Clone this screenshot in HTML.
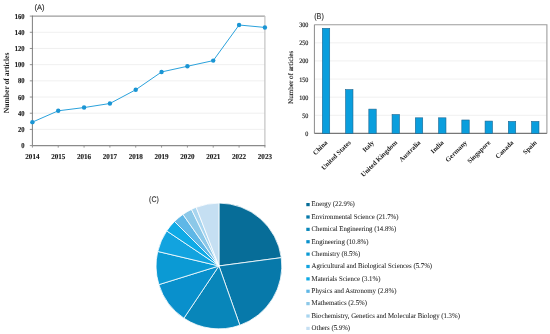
<!DOCTYPE html>
<html><head><meta charset="utf-8"><style>html,body{margin:0;padding:0;background:#fff;width:550px;height:334px;overflow:hidden}svg{display:block}</style></head>
<body><svg width="550" height="334" viewBox="0 0 550 334" text-rendering="geometricPrecision"><text x="34.4" y="10.0" font-family='"Liberation Sans", sans-serif' font-size="7.8" fill="#2a2a2a" stroke="#2a2a2a" stroke-width="0.12" textLength="10.1" lengthAdjust="spacingAndGlyphs">(A)</text>
<line x1="32.4" y1="129.41" x2="264.9" y2="129.41" stroke="#ececec" stroke-width="0.8"/>
<line x1="32.4" y1="113.22" x2="264.9" y2="113.22" stroke="#ececec" stroke-width="0.8"/>
<line x1="32.4" y1="97.04" x2="264.9" y2="97.04" stroke="#ececec" stroke-width="0.8"/>
<line x1="32.4" y1="80.85" x2="264.9" y2="80.85" stroke="#ececec" stroke-width="0.8"/>
<line x1="32.4" y1="64.66" x2="264.9" y2="64.66" stroke="#ececec" stroke-width="0.8"/>
<line x1="32.4" y1="48.47" x2="264.9" y2="48.47" stroke="#ececec" stroke-width="0.8"/>
<line x1="32.4" y1="32.29" x2="264.9" y2="32.29" stroke="#ececec" stroke-width="0.8"/>
<line x1="32.4" y1="16.1" x2="264.9" y2="16.1" stroke="#9d9d9d" stroke-width="1.1"/>
<line x1="264.9" y1="16.1" x2="264.9" y2="145.6" stroke="#bdbdbd" stroke-width="1.1"/>
<line x1="29.799999999999997" y1="145.60" x2="32.4" y2="145.60" stroke="#777" stroke-width="0.8"/>
<text transform="translate(24.6,148.20) scale(0.86,1)" text-anchor="end" font-family='"Liberation Serif", serif' font-weight="bold" font-size="7.6" fill="#1a1a1a" stroke="#1a1a1a" stroke-width="0.15">0</text>
<line x1="29.799999999999997" y1="129.41" x2="32.4" y2="129.41" stroke="#777" stroke-width="0.8"/>
<text transform="translate(24.6,132.01) scale(0.86,1)" text-anchor="end" font-family='"Liberation Serif", serif' font-weight="bold" font-size="7.6" fill="#1a1a1a" stroke="#1a1a1a" stroke-width="0.15">20</text>
<line x1="29.799999999999997" y1="113.22" x2="32.4" y2="113.22" stroke="#777" stroke-width="0.8"/>
<text transform="translate(24.6,115.82) scale(0.86,1)" text-anchor="end" font-family='"Liberation Serif", serif' font-weight="bold" font-size="7.6" fill="#1a1a1a" stroke="#1a1a1a" stroke-width="0.15">40</text>
<line x1="29.799999999999997" y1="97.04" x2="32.4" y2="97.04" stroke="#777" stroke-width="0.8"/>
<text transform="translate(24.6,99.64) scale(0.86,1)" text-anchor="end" font-family='"Liberation Serif", serif' font-weight="bold" font-size="7.6" fill="#1a1a1a" stroke="#1a1a1a" stroke-width="0.15">60</text>
<line x1="29.799999999999997" y1="80.85" x2="32.4" y2="80.85" stroke="#777" stroke-width="0.8"/>
<text transform="translate(24.6,83.45) scale(0.86,1)" text-anchor="end" font-family='"Liberation Serif", serif' font-weight="bold" font-size="7.6" fill="#1a1a1a" stroke="#1a1a1a" stroke-width="0.15">80</text>
<line x1="29.799999999999997" y1="64.66" x2="32.4" y2="64.66" stroke="#777" stroke-width="0.8"/>
<text transform="translate(24.6,67.26) scale(0.86,1)" text-anchor="end" font-family='"Liberation Serif", serif' font-weight="bold" font-size="7.6" fill="#1a1a1a" stroke="#1a1a1a" stroke-width="0.15">100</text>
<line x1="29.799999999999997" y1="48.47" x2="32.4" y2="48.47" stroke="#777" stroke-width="0.8"/>
<text transform="translate(24.6,51.07) scale(0.86,1)" text-anchor="end" font-family='"Liberation Serif", serif' font-weight="bold" font-size="7.6" fill="#1a1a1a" stroke="#1a1a1a" stroke-width="0.15">120</text>
<line x1="29.799999999999997" y1="32.29" x2="32.4" y2="32.29" stroke="#777" stroke-width="0.8"/>
<text transform="translate(24.6,34.89) scale(0.86,1)" text-anchor="end" font-family='"Liberation Serif", serif' font-weight="bold" font-size="7.6" fill="#1a1a1a" stroke="#1a1a1a" stroke-width="0.15">140</text>
<line x1="29.799999999999997" y1="16.10" x2="32.4" y2="16.10" stroke="#777" stroke-width="0.8"/>
<text transform="translate(24.6,18.70) scale(0.86,1)" text-anchor="end" font-family='"Liberation Serif", serif' font-weight="bold" font-size="7.6" fill="#1a1a1a" stroke="#1a1a1a" stroke-width="0.15">160</text>
<line x1="32.40" y1="145.6" x2="32.40" y2="147.6" stroke="#777" stroke-width="0.8"/>
<text x="32.40" y="158.6" text-anchor="middle" font-family='"Liberation Serif", serif' font-weight="bold" font-size="7.6" fill="#1a1a1a" stroke="#1a1a1a" stroke-width="0.12" textLength="14.2" lengthAdjust="spacingAndGlyphs">2014</text>
<line x1="58.23" y1="145.6" x2="58.23" y2="147.6" stroke="#777" stroke-width="0.8"/>
<text x="58.23" y="158.6" text-anchor="middle" font-family='"Liberation Serif", serif' font-weight="bold" font-size="7.6" fill="#1a1a1a" stroke="#1a1a1a" stroke-width="0.12" textLength="14.2" lengthAdjust="spacingAndGlyphs">2015</text>
<line x1="84.07" y1="145.6" x2="84.07" y2="147.6" stroke="#777" stroke-width="0.8"/>
<text x="84.07" y="158.6" text-anchor="middle" font-family='"Liberation Serif", serif' font-weight="bold" font-size="7.6" fill="#1a1a1a" stroke="#1a1a1a" stroke-width="0.12" textLength="14.2" lengthAdjust="spacingAndGlyphs">2016</text>
<line x1="109.90" y1="145.6" x2="109.90" y2="147.6" stroke="#777" stroke-width="0.8"/>
<text x="109.90" y="158.6" text-anchor="middle" font-family='"Liberation Serif", serif' font-weight="bold" font-size="7.6" fill="#1a1a1a" stroke="#1a1a1a" stroke-width="0.12" textLength="14.2" lengthAdjust="spacingAndGlyphs">2017</text>
<line x1="135.73" y1="145.6" x2="135.73" y2="147.6" stroke="#777" stroke-width="0.8"/>
<text x="135.73" y="158.6" text-anchor="middle" font-family='"Liberation Serif", serif' font-weight="bold" font-size="7.6" fill="#1a1a1a" stroke="#1a1a1a" stroke-width="0.12" textLength="14.2" lengthAdjust="spacingAndGlyphs">2018</text>
<line x1="161.57" y1="145.6" x2="161.57" y2="147.6" stroke="#777" stroke-width="0.8"/>
<text x="161.57" y="158.6" text-anchor="middle" font-family='"Liberation Serif", serif' font-weight="bold" font-size="7.6" fill="#1a1a1a" stroke="#1a1a1a" stroke-width="0.12" textLength="14.2" lengthAdjust="spacingAndGlyphs">2019</text>
<line x1="187.40" y1="145.6" x2="187.40" y2="147.6" stroke="#777" stroke-width="0.8"/>
<text x="187.40" y="158.6" text-anchor="middle" font-family='"Liberation Serif", serif' font-weight="bold" font-size="7.6" fill="#1a1a1a" stroke="#1a1a1a" stroke-width="0.12" textLength="14.2" lengthAdjust="spacingAndGlyphs">2020</text>
<line x1="213.23" y1="145.6" x2="213.23" y2="147.6" stroke="#777" stroke-width="0.8"/>
<text x="213.23" y="158.6" text-anchor="middle" font-family='"Liberation Serif", serif' font-weight="bold" font-size="7.6" fill="#1a1a1a" stroke="#1a1a1a" stroke-width="0.12" textLength="14.2" lengthAdjust="spacingAndGlyphs">2021</text>
<line x1="239.07" y1="145.6" x2="239.07" y2="147.6" stroke="#777" stroke-width="0.8"/>
<text x="239.07" y="158.6" text-anchor="middle" font-family='"Liberation Serif", serif' font-weight="bold" font-size="7.6" fill="#1a1a1a" stroke="#1a1a1a" stroke-width="0.12" textLength="14.2" lengthAdjust="spacingAndGlyphs">2022</text>
<line x1="264.90" y1="145.6" x2="264.90" y2="147.6" stroke="#777" stroke-width="0.8"/>
<text x="264.90" y="158.6" text-anchor="middle" font-family='"Liberation Serif", serif' font-weight="bold" font-size="7.6" fill="#1a1a1a" stroke="#1a1a1a" stroke-width="0.12" textLength="14.2" lengthAdjust="spacingAndGlyphs">2023</text>
<line x1="32.4" y1="15.600000000000001" x2="32.4" y2="145.6" stroke="#6e6e6e" stroke-width="0.9"/>
<line x1="32.4" y1="145.6" x2="265.4" y2="145.6" stroke="#8a8a8a" stroke-width="1.2"/>
<polyline points="32.40,122.13 58.23,110.80 84.07,107.56 109.90,103.51 135.73,89.75 161.57,71.95 187.40,66.28 213.23,60.62 239.07,25.00 264.90,27.43" fill="none" stroke="#2ba2dc" stroke-width="1.0"/>
<circle cx="32.40" cy="122.13" r="2.2" fill="#1a95d4"/>
<circle cx="58.23" cy="110.80" r="2.2" fill="#1a95d4"/>
<circle cx="84.07" cy="107.56" r="2.2" fill="#1a95d4"/>
<circle cx="109.90" cy="103.51" r="2.2" fill="#1a95d4"/>
<circle cx="135.73" cy="89.75" r="2.2" fill="#1a95d4"/>
<circle cx="161.57" cy="71.95" r="2.2" fill="#1a95d4"/>
<circle cx="187.40" cy="66.28" r="2.2" fill="#1a95d4"/>
<circle cx="213.23" cy="60.62" r="2.2" fill="#1a95d4"/>
<circle cx="239.07" cy="25.00" r="2.2" fill="#1a95d4"/>
<circle cx="264.90" cy="27.43" r="2.2" fill="#1a95d4"/>
<text transform="translate(8.5,82.9) rotate(-90)" text-anchor="middle" font-family='"Liberation Serif", serif' font-weight="bold" font-size="7.8" fill="#1a1a1a" textLength="60.6" lengthAdjust="spacingAndGlyphs">Number of articles</text>
<text x="314.2" y="18.6" font-family='"Liberation Sans", sans-serif' font-size="8.2" fill="#2a2a2a" stroke="#2a2a2a" stroke-width="0.12" textLength="9.7" lengthAdjust="spacingAndGlyphs">(B)</text>
<line x1="314.4" y1="115.28" x2="546.9" y2="115.28" stroke="#ececec" stroke-width="0.8"/>
<line x1="314.4" y1="97.17" x2="546.9" y2="97.17" stroke="#ececec" stroke-width="0.8"/>
<line x1="314.4" y1="79.05" x2="546.9" y2="79.05" stroke="#ececec" stroke-width="0.8"/>
<line x1="314.4" y1="60.93" x2="546.9" y2="60.93" stroke="#ececec" stroke-width="0.8"/>
<line x1="314.4" y1="42.82" x2="546.9" y2="42.82" stroke="#ececec" stroke-width="0.8"/>
<polyline points="314.4,24.7 546.9,24.7 546.9,133.4" fill="none" stroke="#9d9d9d" stroke-width="1.1"/>
<text transform="translate(308.4,135.90) scale(0.9,1)" text-anchor="end" font-family='"Liberation Serif", serif' font-size="6.8" fill="#111" stroke="#111" stroke-width="0.15">0</text>
<text transform="translate(308.4,117.78) scale(0.9,1)" text-anchor="end" font-family='"Liberation Serif", serif' font-size="6.8" fill="#111" stroke="#111" stroke-width="0.15">50</text>
<text transform="translate(308.4,99.67) scale(0.9,1)" text-anchor="end" font-family='"Liberation Serif", serif' font-size="6.8" fill="#111" stroke="#111" stroke-width="0.15">100</text>
<text transform="translate(308.4,81.55) scale(0.9,1)" text-anchor="end" font-family='"Liberation Serif", serif' font-size="6.8" fill="#111" stroke="#111" stroke-width="0.15">150</text>
<text transform="translate(308.4,63.43) scale(0.9,1)" text-anchor="end" font-family='"Liberation Serif", serif' font-size="6.8" fill="#111" stroke="#111" stroke-width="0.15">200</text>
<text transform="translate(308.4,45.32) scale(0.9,1)" text-anchor="end" font-family='"Liberation Serif", serif' font-size="6.8" fill="#111" stroke="#111" stroke-width="0.15">250</text>
<text transform="translate(308.4,27.20) scale(0.9,1)" text-anchor="end" font-family='"Liberation Serif", serif' font-size="6.8" fill="#111" stroke="#111" stroke-width="0.15">300</text>
<line x1="314.4" y1="24.7" x2="314.4" y2="133.4" stroke="#8a8a8a" stroke-width="1"/>
<line x1="314.4" y1="133.4" x2="546.9" y2="133.4" stroke="#777" stroke-width="1.1"/>
<rect x="322.32" y="28.32" width="7.4" height="105.08" fill="#0a9edd" stroke="#1b6590" stroke-width="0.6"/>
<text transform="translate(328.02,143.00) rotate(-45)" text-anchor="end" font-family='"Liberation Serif", serif' font-weight="bold" font-size="6.8" fill="#222">China</text>
<rect x="345.57" y="89.56" width="7.4" height="43.84" fill="#0a9edd" stroke="#1b6590" stroke-width="0.6"/>
<text transform="translate(351.27,143.00) rotate(-45)" text-anchor="end" font-family='"Liberation Serif", serif' font-weight="bold" font-size="6.8" fill="#222">United States</text>
<rect x="368.82" y="109.12" width="7.4" height="24.28" fill="#0a9edd" stroke="#1b6590" stroke-width="0.6"/>
<text transform="translate(374.52,143.00) rotate(-45)" text-anchor="end" font-family='"Liberation Serif", serif' font-weight="bold" font-size="6.8" fill="#222">Italy</text>
<rect x="392.07" y="114.56" width="7.4" height="18.84" fill="#0a9edd" stroke="#1b6590" stroke-width="0.6"/>
<text transform="translate(397.77,143.00) rotate(-45)" text-anchor="end" font-family='"Liberation Serif", serif' font-weight="bold" font-size="6.8" fill="#222">United Kingdom</text>
<rect x="415.32" y="117.82" width="7.4" height="15.58" fill="#0a9edd" stroke="#1b6590" stroke-width="0.6"/>
<text transform="translate(421.02,143.00) rotate(-45)" text-anchor="end" font-family='"Liberation Serif", serif' font-weight="bold" font-size="6.8" fill="#222">Australia</text>
<rect x="438.57" y="117.82" width="7.4" height="15.58" fill="#0a9edd" stroke="#1b6590" stroke-width="0.6"/>
<text transform="translate(444.27,143.00) rotate(-45)" text-anchor="end" font-family='"Liberation Serif", serif' font-weight="bold" font-size="6.8" fill="#222">India</text>
<rect x="461.82" y="119.99" width="7.4" height="13.41" fill="#0a9edd" stroke="#1b6590" stroke-width="0.6"/>
<text transform="translate(467.52,143.00) rotate(-45)" text-anchor="end" font-family='"Liberation Serif", serif' font-weight="bold" font-size="6.8" fill="#222">Germany</text>
<rect x="485.07" y="121.08" width="7.4" height="12.32" fill="#0a9edd" stroke="#1b6590" stroke-width="0.6"/>
<text transform="translate(490.77,143.00) rotate(-45)" text-anchor="end" font-family='"Liberation Serif", serif' font-weight="bold" font-size="6.8" fill="#222">Singapore</text>
<rect x="508.32" y="121.44" width="7.4" height="11.96" fill="#0a9edd" stroke="#1b6590" stroke-width="0.6"/>
<text transform="translate(514.02,143.00) rotate(-45)" text-anchor="end" font-family='"Liberation Serif", serif' font-weight="bold" font-size="6.8" fill="#222">Canada</text>
<rect x="531.57" y="121.44" width="7.4" height="11.96" fill="#0a9edd" stroke="#1b6590" stroke-width="0.6"/>
<text transform="translate(537.27,143.00) rotate(-45)" text-anchor="end" font-family='"Liberation Serif", serif' font-weight="bold" font-size="6.8" fill="#222">Spain</text>
<text transform="translate(292.7,77.4) rotate(-90)" text-anchor="middle" font-family='"Liberation Serif", serif' font-size="7.0" fill="#111" stroke="#111" stroke-width="0.12" textLength="53.2" lengthAdjust="spacingAndGlyphs">Number of articles</text>
<text x="149.1" y="201.8" font-family='"Liberation Sans", sans-serif' font-size="8.2" fill="#2a2a2a" stroke="#2a2a2a" stroke-width="0.12" textLength="9.7" lengthAdjust="spacingAndGlyphs">(C)</text>
<path d="M218.95,265.95 L218.95,203.05 A62.9,62.9 0 0 1 281.30,257.67 Z" fill="#076d98" stroke="#fff" stroke-width="0.8" stroke-linejoin="round"/>
<path d="M218.95,265.95 L281.30,257.67 A62.9,62.9 0 0 1 239.88,325.26 Z" fill="#0779aa" stroke="#fff" stroke-width="0.8" stroke-linejoin="round"/>
<path d="M218.95,265.95 L239.88,325.26 A62.9,62.9 0 0 1 183.92,318.19 Z" fill="#0886ba" stroke="#fff" stroke-width="0.8" stroke-linejoin="round"/>
<path d="M218.95,265.95 L183.92,318.19 A62.9,62.9 0 0 1 158.89,284.63 Z" fill="#0990cc" stroke="#fff" stroke-width="0.8" stroke-linejoin="round"/>
<path d="M218.95,265.95 L158.89,284.63 A62.9,62.9 0 0 1 157.74,251.46 Z" fill="#0b9ad4" stroke="#fff" stroke-width="0.8" stroke-linejoin="round"/>
<path d="M218.95,265.95 L157.74,251.46 A62.9,62.9 0 0 1 166.71,230.92 Z" fill="#12a3df" stroke="#fff" stroke-width="0.8" stroke-linejoin="round"/>
<path d="M218.95,265.95 L166.71,230.92 A62.9,62.9 0 0 1 174.47,221.47 Z" fill="#0eaae6" stroke="#fff" stroke-width="0.8" stroke-linejoin="round"/>
<path d="M218.95,265.95 L174.47,221.47 A62.9,62.9 0 0 1 182.94,214.38 Z" fill="#5fb7e6" stroke="#fff" stroke-width="0.8" stroke-linejoin="round"/>
<path d="M218.95,265.95 L182.94,214.38 A62.9,62.9 0 0 1 191.46,209.38 Z" fill="#8cc8e8" stroke="#fff" stroke-width="0.8" stroke-linejoin="round"/>
<path d="M218.95,265.95 L191.46,209.38 A62.9,62.9 0 0 1 196.16,207.32 Z" fill="#a8d5ef" stroke="#fff" stroke-width="0.8" stroke-linejoin="round"/>
<path d="M218.95,265.95 L196.16,207.32 A62.9,62.9 0 0 1 218.95,203.05 Z" fill="#c5dff2" stroke="#fff" stroke-width="0.8" stroke-linejoin="round"/>
<rect x="306.3" y="203.00" width="3.4" height="3.2" fill="#076d98"/>
<text x="311.6" y="206.40" font-family='"Liberation Serif", serif' font-size="7.1" fill="#1e1e1e" stroke="#1e1e1e" stroke-width="0.05" textLength="43.24" lengthAdjust="spacingAndGlyphs">Energy (22.9%)</text>
<rect x="306.3" y="215.38" width="3.4" height="3.2" fill="#0779aa"/>
<text x="311.6" y="218.78" font-family='"Liberation Serif", serif' font-size="7.1" fill="#1e1e1e" stroke="#1e1e1e" stroke-width="0.05" textLength="86.92" lengthAdjust="spacingAndGlyphs">Environmental Science (21.7%)</text>
<rect x="306.3" y="227.76" width="3.4" height="3.2" fill="#0886ba"/>
<text x="311.6" y="231.16" font-family='"Liberation Serif", serif' font-size="7.1" fill="#1e1e1e" stroke="#1e1e1e" stroke-width="0.05" textLength="84.66" lengthAdjust="spacingAndGlyphs">Chemical Engineering (14.8%)</text>
<rect x="306.3" y="240.14" width="3.4" height="3.2" fill="#0990cc"/>
<text x="311.6" y="243.54" font-family='"Liberation Serif", serif' font-size="7.1" fill="#1e1e1e" stroke="#1e1e1e" stroke-width="0.05" textLength="56.94" lengthAdjust="spacingAndGlyphs">Engineering (10.8%)</text>
<rect x="306.3" y="252.52" width="3.4" height="3.2" fill="#0b9ad4"/>
<text x="311.6" y="255.92" font-family='"Liberation Serif", serif' font-size="7.1" fill="#1e1e1e" stroke="#1e1e1e" stroke-width="0.05" textLength="48.65" lengthAdjust="spacingAndGlyphs">Chemistry (8.5%)</text>
<rect x="306.3" y="264.90" width="3.4" height="3.2" fill="#12a3df"/>
<text x="311.6" y="268.30" font-family='"Liberation Serif", serif' font-size="7.1" fill="#1e1e1e" stroke="#1e1e1e" stroke-width="0.05" textLength="120.49" lengthAdjust="spacingAndGlyphs">Agricultural and Biological Sciences (5.7%)</text>
<rect x="306.3" y="277.28" width="3.4" height="3.2" fill="#0eaae6"/>
<text x="311.6" y="280.68" font-family='"Liberation Serif", serif' font-size="7.1" fill="#1e1e1e" stroke="#1e1e1e" stroke-width="0.05" textLength="68.82" lengthAdjust="spacingAndGlyphs">Materials Science (3.1%)</text>
<rect x="306.3" y="289.66" width="3.4" height="3.2" fill="#5fb7e6"/>
<text x="311.6" y="293.06" font-family='"Liberation Serif", serif' font-size="7.1" fill="#1e1e1e" stroke="#1e1e1e" stroke-width="0.05" textLength="84.87" lengthAdjust="spacingAndGlyphs">Physics and Astronomy (2.8%)</text>
<rect x="306.3" y="302.04" width="3.4" height="3.2" fill="#8cc8e8"/>
<text x="311.6" y="305.44" font-family='"Liberation Serif", serif' font-size="7.1" fill="#1e1e1e" stroke="#1e1e1e" stroke-width="0.05" textLength="55.43" lengthAdjust="spacingAndGlyphs">Mathematics (2.5%)</text>
<rect x="306.3" y="314.42" width="3.4" height="3.2" fill="#a8d5ef"/>
<text x="311.6" y="317.82" font-family='"Liberation Serif", serif' font-size="7.1" fill="#1e1e1e" stroke="#1e1e1e" stroke-width="0.05" textLength="148.34" lengthAdjust="spacingAndGlyphs">Biochemistry, Genetics and Molecular Biology (1.3%)</text>
<rect x="306.3" y="326.80" width="3.4" height="3.2" fill="#c5dff2"/>
<text x="311.6" y="330.20" font-family='"Liberation Serif", serif' font-size="7.1" fill="#1e1e1e" stroke="#1e1e1e" stroke-width="0.05" textLength="38.47" lengthAdjust="spacingAndGlyphs">Others (5.9%)</text></svg></body></html>
